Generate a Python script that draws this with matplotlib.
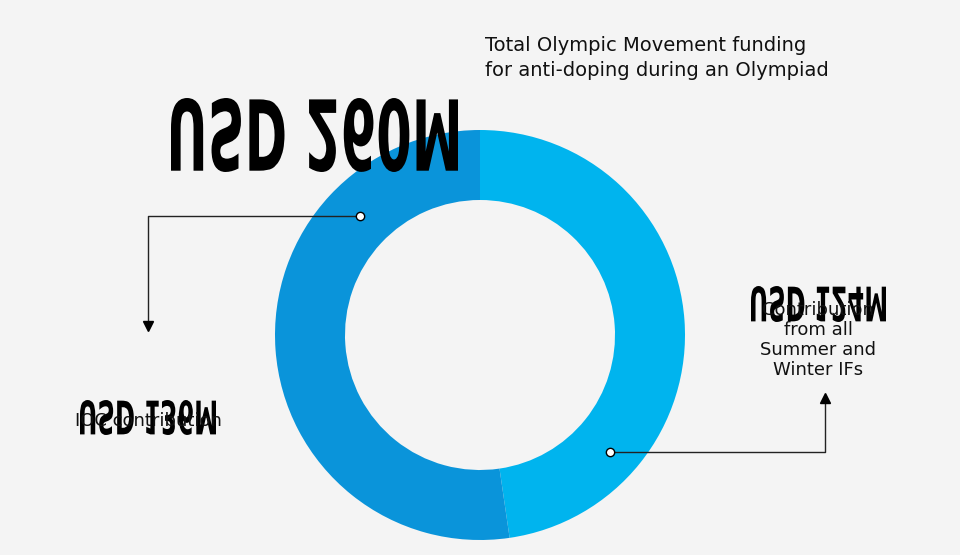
import matplotlib
matplotlib.use("Agg")
import matplotlib.pyplot as plt
from matplotlib.textpath import TextPath
from matplotlib.patches import PathPatch
from matplotlib.font_manager import FontProperties
from matplotlib.transforms import Affine2D

labels = ["Summer and Winter IFs", "IOC"]
values = [124, 136]
colors = ["#00B4EE", "#0A94DA"]
title_value = "USD 260M"
subtitle = "Total Olympic Movement funding\nfor anti-doping during an Olympiad"
ioc_value = "USD 136M"
ioc_label = "IOC contribution"
if_value = "USD 124M"
if_label = "Contribution\nfrom all\nSummer and\nWinter IFs"

H = 555
fig = plt.figure(figsize=(9.6, 5.55), dpi=100, facecolor="#F4F4F4")
ax = fig.add_axes([0, 0, 1, 1])

ax.pie(values, colors=colors, startangle=90, counterclock=False, center=(480, H-335),
       radius=205, wedgeprops=dict(width=70, edgecolor="none"), frame=True)
ax.set_xlim(0, 960); ax.set_ylim(0, H); ax.set_aspect("equal"); ax.axis("off")

fp = FontProperties(family="DejaVu Sans", weight="bold")

def fit_text(s, x0, x1, top, bottom):
    tp = TextPath((0, 0), s, size=100, prop=fp)
    ext = tp.get_extents()
    sx = (x1 - x0) / ext.width
    sy = (top - bottom) / ext.height
    tr = Affine2D().translate(-ext.x0, -ext.y0).scale(sx, sy).translate(x0, H - bottom)
    ax.add_patch(PathPatch(tr.transform_path(tp), color="black", lw=0))

fit_text(title_value, 171, 458, 24, 98)
fit_text(ioc_value, 80, 216, 365, 400)
fit_text(if_value, 751, 886, 250, 286)

ax.text(485, H-58, subtitle, ha="left", va="center", fontsize=14, linespacing=1.45, color="#111")

# left callout
ax.plot([360, 148, 148], [H-216, H-216, H-322], color="#222", lw=1)
ax.plot([360], [H-216], "o", mfc="white", mec="black", ms=6)
ax.plot([148], [H-326], marker="v", color="black", ms=7)
ax.text(148, H-421, ioc_label, ha="center", va="center", fontsize=13, color="#111")

# right callout
ax.plot([610, 825, 825], [H-452, H-452, H-402], color="#222", lw=1)
ax.plot([610], [H-452], "o", mfc="white", mec="black", ms=6)
ax.plot([825], [H-398], marker="^", color="black", ms=7)
ax.text(818, H-340, if_label, ha="center", va="center", fontsize=13, linespacing=1.15, color="#111")

fig.savefig("out.png", dpi=100, facecolor=fig.get_facecolor())
